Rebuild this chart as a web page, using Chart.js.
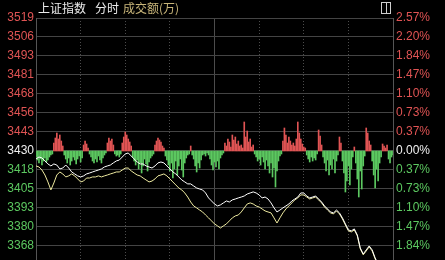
<!DOCTYPE html>
<html lang="zh-CN">
<head>
<meta charset="UTF-8">
<title>上证指数 分时</title>
<script src="https://cdn.jsdelivr.net/npm/chart.js"></script>
<style>
    body { margin: 0; background: #000; }
    #wrap { position: relative; width: 445px; height: 260px; background: #000; overflow: hidden; }
    #head { position: absolute; left: 38px; top: 0; font: 12px "Noto Sans CJK SC", sans-serif; line-height: 16px; color: #ececec; white-space: nowrap; }
    #head .fs { margin-left: 9px; }
    #head .amt { color: #c9b67a; margin-left: 4px; }
    #btn { position: absolute; left: 381px; top: 2px; width: 8px; height: 10px; border: 1px solid #cfcfcf; }
    #btn:after { content: ''; position: absolute; left: 4px; top: 0; width: 1px; height: 10px; background: #cfcfcf; }
</style>
</head>
<body>
<div id="wrap">
    <canvas id="chart"></canvas>
    <div id="head"><span>上证指数</span><span class="fs">分时</span><span class="amt">成交额(万)</span></div>
    <div id="btn"></div>
</div>

<script>
    // previous close and one grid step (0.3667%)
    const prevClose = 3430.6;
    const tickStep = 12.58;

    // axis labels, top to bottom
    const priceLabels = ['3519', '3506', '3493', '3481', '3468', '3456', '3443', '3430', '3418', '3405', '3393', '3380', '3368'];
    const pctLabels = ['2.57%', '2.20%', '1.84%', '1.47%', '1.10%', '0.73%', '0.37%', '0.00%', '0.37%', '0.73%', '1.10%', '1.47%', '1.84%'];

    // index (white) and unweighted index (yellow), one value every 2 minutes
    const whiteLine = [
        3425.3, 3426.6, 3426.0, 3424.0, 3422.0, 3420.7, 3422.0, 3421.3, 3418.7, 3419.3,
        3421.3, 3419.3, 3416.7, 3415.4, 3414.1, 3413.4, 3414.1, 3415.4, 3416.0, 3416.7,
        3417.4, 3418.0, 3418.7, 3420.0, 3420.7, 3421.3, 3422.7, 3424.0, 3424.6, 3426.6,
        3428.6, 3429.3, 3427.3, 3425.3, 3423.3, 3422.0, 3422.0, 3420.7, 3420.0, 3419.3,
        3420.7, 3422.7, 3423.3, 3422.7, 3420.7, 3418.7, 3416.7, 3415.4, 3413.4, 3411.4,
        3410.1, 3408.8, 3408.8, 3407.4, 3406.1, 3405.4, 3404.8, 3402.8, 3399.5, 3397.5,
        3395.5, 3394.2, 3394.9, 3396.2, 3397.5, 3396.8, 3398.2, 3398.8, 3399.5, 3400.1,
        3400.8, 3402.1, 3402.8, 3403.5, 3402.8, 3401.5, 3399.5, 3400.1, 3398.8, 3396.2,
        3392.9, 3390.2, 3391.5, 3392.9, 3394.2, 3395.5, 3397.5, 3398.8, 3400.1, 3402.8,
        3402.8, 3400.8, 3399.5, 3400.1, 3400.8, 3398.8, 3396.8, 3394.2, 3392.2, 3390.2,
        3389.6, 3391.5, 3389.6, 3386.3, 3382.3, 3378.3, 3377.7, 3379.0, 3375.0, 3366.4,
        3362.4, 3365.1, 3367.7, 3365.1, 3359.8, 3355.8, 3353.2, 3354.5, 3351.9, 3350.5,
        3349.8
    ];
    const yellowLine = [
        3420.7, 3420.0, 3418.0, 3414.7, 3410.1, 3404.8, 3409.4, 3414.7, 3416.7, 3415.4,
        3413.4, 3414.1, 3415.4, 3414.1, 3412.1, 3410.1, 3410.7, 3412.7, 3412.7, 3413.4,
        3413.4, 3414.1, 3413.4, 3414.1, 3414.7, 3415.4, 3416.0, 3416.7, 3416.7, 3418.0,
        3419.3, 3419.3, 3417.4, 3416.0, 3414.7, 3414.1, 3412.7, 3411.4, 3410.1, 3410.7,
        3412.1, 3414.1, 3414.7, 3415.4, 3414.1, 3412.1, 3410.1, 3408.1, 3406.1, 3404.8,
        3402.8, 3400.1, 3396.8, 3394.2, 3392.9, 3391.5, 3390.2, 3388.2, 3386.3, 3384.3,
        3382.3, 3381.0, 3379.6, 3381.0, 3382.3, 3384.3, 3386.3, 3387.6, 3388.2, 3390.2,
        3392.9, 3395.5, 3396.2, 3395.5, 3394.2, 3393.5, 3392.2, 3390.9, 3390.2, 3389.6,
        3386.3, 3382.9, 3386.3, 3389.6, 3392.2, 3394.2, 3396.2, 3398.2, 3399.5, 3401.5,
        3401.5, 3400.1, 3398.8, 3399.5, 3400.1, 3398.2, 3396.2, 3393.5, 3391.5, 3389.6,
        3388.9, 3390.9, 3388.9, 3385.6, 3381.6, 3377.7, 3377.0, 3378.3, 3374.4, 3365.7,
        3361.8, 3364.4, 3367.1, 3364.4, 3359.1, 3355.2, 3352.5, 3353.8, 3351.2, 3349.9,
        3349.2
    ];

    // per-minute amount bars (red up / green down)
    const amountDiff = [
        -6, -9, -12, -8, -14, -10, -7, -11, -9, -6, -4, -3,
        8, 13, 18, 12, 16, 10, 5,
        -4, -8, -12, -7, -14, -10, -6, -9, -13, -8, -5, -11, -7,
        6, 10, 7, 3,
        -3, -6, -10, -12, -8, -11, -5, -9, -12, -7, -4, -2,
        8, 13, 10, 12, 6,
        -3, -5, -4, -6, -3,
        8, 14, 19, 16, 12, 9, 5,
        -6, -10, -14, -9, -18, -12, -22, -15, -8, -13, -20, -11, -7, -5, -3,
        6, 10, 13, 11, 9, 5, 3,
        -5, -9, -14, -20, -12, -27, -18, -10, -24, -15, -8, -19, -26, -12, -7, -4, -3,
        5,
        -4, -8, -15, -21, -12, -17, -9, -4,
        -3, -5, -2, -4,
        -8, -14, -19, -11, -16, -10, -18, -7, -4, -2,
        8, 5, 12, 9, 4, 16, 11, 14, 7, 10, 5, 6, 3, 29, 14, 20, 9, 12, 4, 6,
        -3, -6, -10, -8, -14, -6, -11, -18, -9, -15, -22, -12, -26, -17, -36, -20, -10, -5, -3,
        10, 23, 16, 8, 14, 10, 6, 8, 5, 12, 29, 18, 12, 7, 4, 3,
        -4, -8, -11, -6, -10, -7, -9, -3,
        21, 15, 6,
        -6, -12, -20, -9, -24, -14, -18, -8, -22, -10, -4,
        14, 8,
        -10, -22, -41, -30, -15, -34, -18, -6,
        4,
        -12, -28, -46, -20, -38, -15, -5,
        23, 18, 10, 6,
        -10, -24, -37, -18, -30, -12, -6,
        7, 5, 3, 6,
        -8, -12, -6, -4
    ];

    const RED = '#e05454';
    const GREEN = '#5cc860';
    const WHITE = '#f0f0f0';

    function labelColor(topIndex) {
        if (topIndex < 7) return RED;
        if (topIndex === 7) return WHITE;
        return GREEN;
    }

    function buildTicks(scale) {
        scale.ticks = priceLabels.map((_, i) => ({ value: prevClose + tickStep * (7 - i) })).reverse();
    }

    const axisFont = { family: 'Liberation Sans', size: 12 };

    new Chart(document.getElementById('chart'), {
        data: {
            datasets: [
                {
                    type: 'line',
                    data: whiteLine.map((v, i) => ({ x: i * 2, y: v })),
                    borderColor: '#ffffff',
                    borderWidth: 1,
                    pointRadius: 0,
                    tension: 0,
                    yAxisID: 'y',
                    order: 0
                },
                {
                    type: 'line',
                    data: yellowLine.map((v, i) => ({ x: i * 2, y: v })),
                    borderColor: '#eeeaa0',
                    borderWidth: 1,
                    pointRadius: 0,
                    tension: 0,
                    yAxisID: 'y',
                    order: 1
                },
                {
                    type: 'bar',
                    data: amountDiff.map((v, i) => ({ x: i, y: v })),
                    backgroundColor: c => (c.parsed && c.parsed.y >= 0) ? RED : GREEN,
                    barThickness: 1,
                    yAxisID: 'yAmt',
                    order: 2
                }
            ]
        },
        options: {
            responsive: true,
            maintainAspectRatio: false,
            animation: false,
            layout: { padding: { top: 18, left: 0, right: 0, bottom: 0 } },
            plugins: { legend: { display: false }, tooltip: { enabled: false } },
            scales: {
                x: {
                    type: 'linear',
                    offset: false,
                    min: 0,
                    max: 240,
                    ticks: { display: false, stepSize: 30 },
                    grid: { color: '#4c4c4c', drawTicks: false, offset: false },
                    border: { display: false, dash: c => (c.tick && c.tick.value === 120) ? [] : [1, 2] },
                    afterFit: s => { s.height = 0; s.paddingLeft = 0; s.paddingRight = 0; }
                },
                y: {
                    position: 'left',
                    min: 3358.4,
                    max: prevClose + tickStep * 7,
                    afterBuildTicks: buildTicks,
                    ticks: {
                        autoSkip: false,
                        padding: 2,
                        font: axisFont,
                        callback: (v, i) => priceLabels[priceLabels.length - 1 - i],
                        color: c => labelColor(priceLabels.length - 1 - c.index)
                    },
                    grid: { color: '#444444', drawTicks: false },
                    border: { color: '#555555' },
                    afterFit: s => { s.width = 36; s.paddingTop = 0; s.paddingBottom = 0; }
                },
                yPct: {
                    position: 'right',
                    min: 3358.4,
                    max: prevClose + tickStep * 7,
                    afterBuildTicks: buildTicks,
                    ticks: {
                        autoSkip: false,
                        padding: 3,
                        font: axisFont,
                        callback: (v, i) => pctLabels[pctLabels.length - 1 - i],
                        color: c => labelColor(pctLabels.length - 1 - c.index)
                    },
                    grid: { drawOnChartArea: false, drawTicks: false },
                    border: { color: '#555555' },
                    afterFit: s => { s.width = 52; s.paddingTop = 0; s.paddingBottom = 0; }
                },
                yAmt: {
                    display: false,
                    min: -109,
                    max: 133
                }
            }
        }
    });
</script>
</body>
</html>
